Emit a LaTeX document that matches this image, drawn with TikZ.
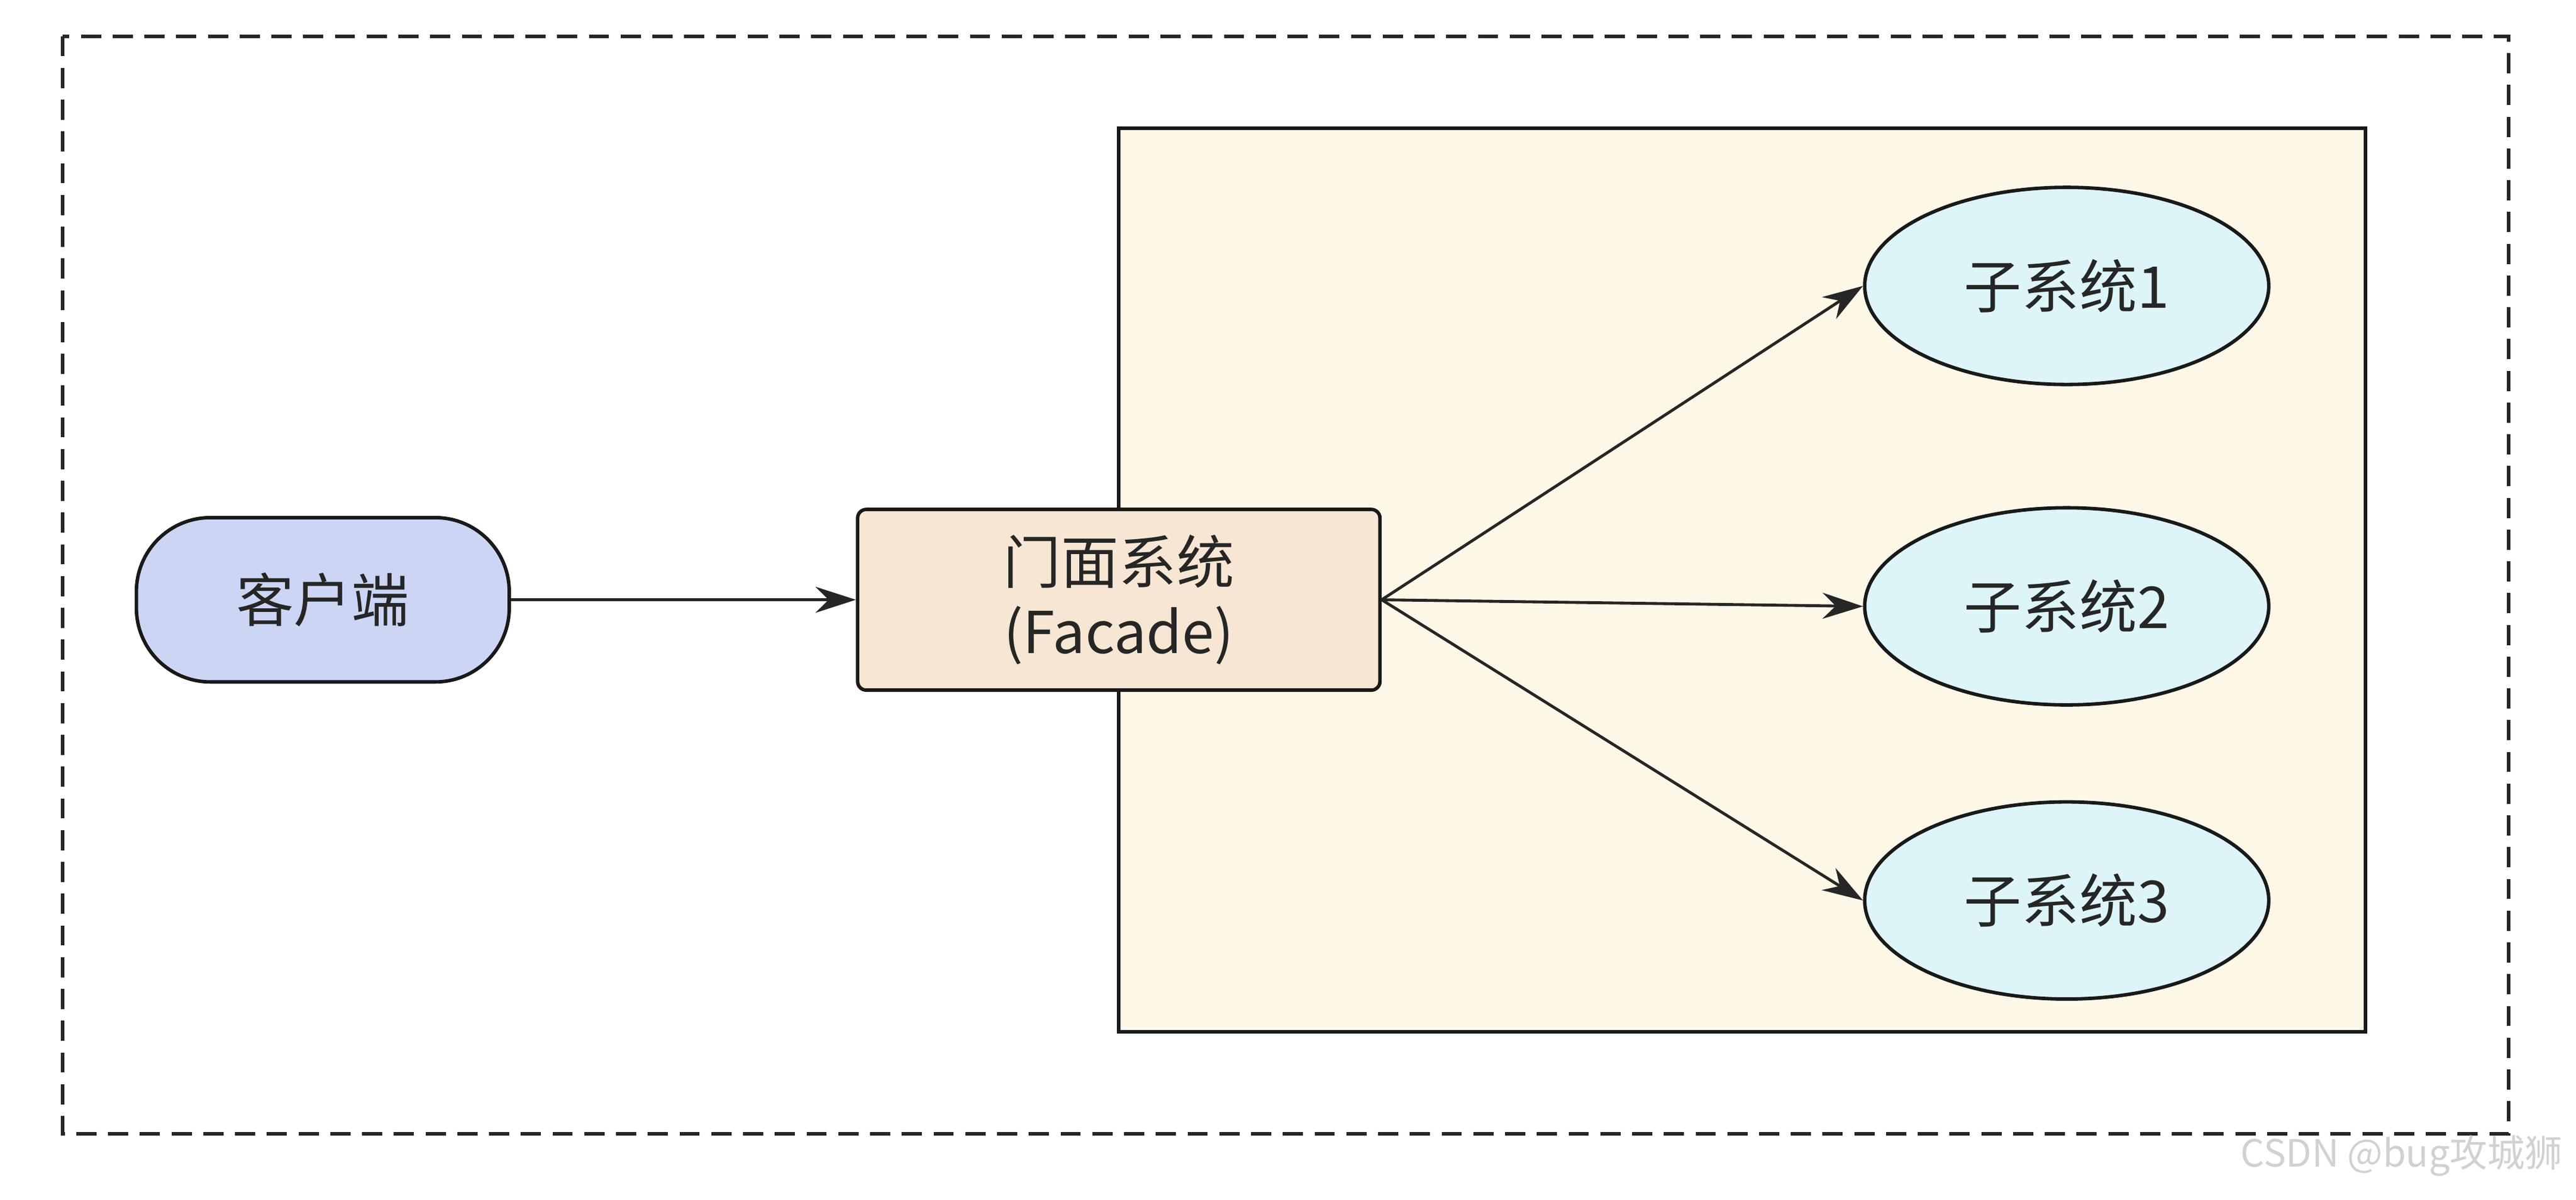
\documentclass[tikz,border=0pt]{standalone}
\usepackage{fontspec}
\setmainfont{Liberation Sans}
\newfontfamily\cjk{Noto Sans CJK SC}
\usetikzlibrary{shapes.geometric,arrows.meta}
\definecolor{panel}{HTML}{FDF7E8}
\definecolor{client}{HTML}{CDD5F5}
\definecolor{facade}{HTML}{F8E6D4}
\definecolor{sub}{HTML}{DDF5F8}
\begin{document}
\begin{tikzpicture}[x=0.02cm,y=-0.02cm,
  lbl/.style={font=\cjk\fontsize{20}{24}\selectfont, text=black!85},
  box/.style={draw=black!90, line width=1.2pt},
  arr/.style={-{Stealth[length=14pt,width=9pt]}, line width=1pt, black!85},
  sub/.style={box, ellipse, fill=sub, minimum width=4.92cm, minimum height=2.4cm, lbl}]
\useasboundingbox (0,0) rectangle (1568,730);
\draw[black!85, line width=1.2pt, dash pattern=on 7pt off 4pt] (38,22) rectangle (1527,690);
\draw[box, fill=panel] (681,78) rectangle (1440,628);
\node[box, fill=client, rounded corners=0.9cm, minimum width=4.54cm, minimum height=2cm, lbl] (c) at (196.5,365) {客户端};
\node[box, fill=facade, rounded corners=3pt, minimum width=6.36cm, minimum height=2.2cm, lbl, align=center, inner sep=2pt] (f) at (681,365) {门面系统\\(Facade)};
\node[sub] (s1) at (1258,174) {子系统1};
\node[sub] (s2) at (1258,369) {子系统2};
\node[sub] (s3) at (1258,548) {子系统3};
\draw[arr] (c.east) -- (f.west);
\draw[arr] (f.east) -- (s1.west);
\draw[arr] (f.east) -- (s2.west);
\draw[arr] (f.east) -- (s3.west);
\node[font=\cjk\fontsize{13}{15}\selectfont, text=black!18, anchor=south east] (w) at (1566,722) {CSDN @bug攻城狮};
\end{tikzpicture}
\end{document}
